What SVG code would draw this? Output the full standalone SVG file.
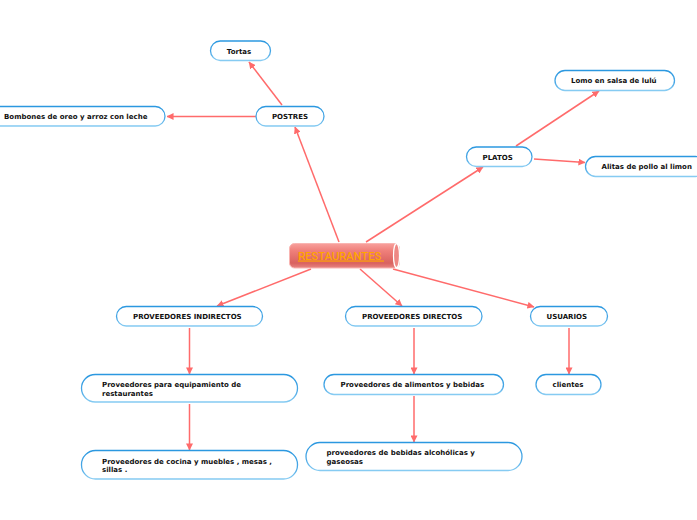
<svg xmlns="http://www.w3.org/2000/svg" width="697" height="520" viewBox="0 0 697 520">
<style>
.n{fill:#fff;stroke:url(#b);stroke-width:1.3}
.t{font-family:"DejaVu Sans",Verdana,sans-serif;font-weight:700;font-size:7px;fill:#111}
.m{text-anchor:middle}
.c line{stroke:#ff6b6b;stroke-width:1.5;marker-end:url(#a)}
</style>
<defs>
<linearGradient id="b" x1="0" y1="0" x2="0" y2="1"><stop offset="0" stop-color="#2b98e0"/><stop offset=".6" stop-color="#4aa8e6"/><stop offset="1" stop-color="#86cbf2"/></linearGradient>
<linearGradient id="r" x1="0" y1="0" x2="0" y2="1"><stop offset="0" stop-color="#f8a09c"/><stop offset=".3" stop-color="#ef7f7a"/><stop offset=".8" stop-color="#d9625f"/><stop offset="1" stop-color="#e88582"/></linearGradient>
<marker id="a" viewBox="0 0 8 8" refX="7.500" refY="4" markerWidth="7" markerHeight="7" markerUnits="userSpaceOnUse" orient="auto"><path d="M0 0L8 4L0 8z" fill="#ff6b6b"/></marker>
</defs>
<g id="connectors" class="c">
<line x1="339" y1="242" x2="295" y2="127"/>
<line x1="366" y1="242" x2="483" y2="167"/>
<line x1="311" y1="269" x2="217" y2="306"/>
<line x1="360" y1="269" x2="402" y2="306"/>
<line x1="393" y1="269" x2="534" y2="307"/>
<line x1="282" y1="105" x2="249" y2="62"/>
<line x1="256" y1="116.500" x2="167" y2="116.500"/>
<line x1="516" y1="146" x2="599" y2="91"/>
<line x1="534" y1="159" x2="585" y2="162.500"/>
<line x1="189.500" y1="328" x2="189.500" y2="374"/>
<line x1="189.500" y1="404" x2="189.500" y2="450"/>
<line x1="414" y1="328" x2="414" y2="374"/>
<line x1="414" y1="396" x2="414" y2="442"/>
<line x1="569" y1="328" x2="569" y2="374"/>
</g>
<g id="root">
<rect x="289.500" y="243.500" width="110" height="24.500" rx="5" fill="url(#r)" stroke="#f9b5b2" stroke-width="1"/>
<ellipse cx="396.500" cy="255.700" rx="3" ry="12" fill="#ee8884" stroke="#fff" stroke-width="1.200"/>
<text x="298" y="259.500" font-family="Roboto,'Liberation Sans',sans-serif" font-size="11.200" font-weight="500" fill="#ffa500" text-decoration="underline" xml:space="preserve">RESTAURANTES </text>
</g>
<g id="tortas"><rect class="n" x="210.500" y="41" width="60" height="19.500" rx="9.700"/><text class="t m" x="239" y="53.500">Tortas</text></g>
<g id="postres"><rect class="n" x="256" y="106.500" width="68" height="19.500" rx="9.700"/><text class="t m" x="290" y="119">POSTRES</text></g>
<g id="bombones"><rect class="n" x="-20" y="106.500" width="185" height="19.500" rx="9.700"/><text class="t" x="4" y="119">Bombones de oreo y arroz con leche</text></g>
<g id="lomo"><rect class="n" x="555" y="70.500" width="119.500" height="20" rx="10"/><text class="t" x="571" y="82.500">Lomo en salsa de lulú</text></g>
<g id="platos"><rect class="n" x="466.500" y="147" width="65.500" height="19.500" rx="9.700"/><text class="t" x="482.500" y="160">PLATOS</text></g>
<g id="alitas"><rect class="n" x="585.500" y="156.500" width="120" height="20" rx="10"/><text class="t" x="601.500" y="169">Alitas de pollo al limon</text></g>
<g id="indirectos"><rect class="n" x="116.500" y="306.500" width="146" height="19.500" rx="9.700"/><text class="t" x="133" y="319">PROVEEDORES INDIRECTOS</text></g>
<g id="directos"><rect class="n" x="345.500" y="306.500" width="136.500" height="19.500" rx="9.700"/><text class="t" x="362" y="319">PROVEEDORES DIRECTOS</text></g>
<g id="usuarios"><rect class="n" x="530.500" y="306.500" width="77" height="19.500" rx="9.700"/><text class="t" x="546.500" y="319">USUARIOS</text></g>
<g id="equipamiento"><rect class="n" x="81.500" y="374.500" width="216" height="27.500" rx="13.700"/><text class="t" x="102" y="387">Proveedores para equipamiento de</text><text class="t" x="102" y="396">restaurantes</text></g>
<g id="cocina"><rect class="n" x="81.500" y="450.500" width="216" height="28.500" rx="14"/><text class="t" x="102" y="464">Proveedores de cocina y muebles , mesas ,</text><text class="t" x="102" y="472">sillas .</text></g>
<g id="alimentos"><rect class="n" x="324" y="374.500" width="179.500" height="20" rx="10"/><text class="t" x="340.500" y="387">Proveedores de alimentos y bebidas</text></g>
<g id="bebidas"><rect class="n" x="306" y="442.500" width="216" height="28" rx="14"/><text class="t" x="326.500" y="455">proveedores de bebidas alcohólicas y</text><text class="t" x="326.500" y="464">gaseosas</text></g>
<g id="clientes"><rect class="n" x="536" y="374.500" width="65" height="20" rx="10"/><text class="t" x="552.500" y="387">clientes</text></g>
</svg>
